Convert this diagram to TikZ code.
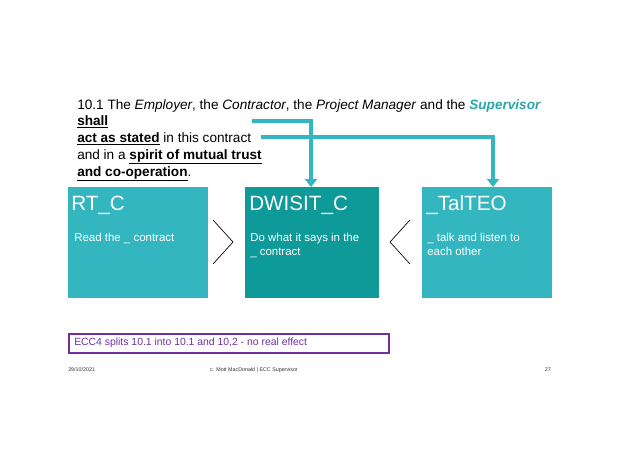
\documentclass[tikz,border=0pt]{standalone}
\usepackage{fontspec}
\setmainfont{Liberation Sans}
\definecolor{tealA}{HTML}{33B6C0}
\definecolor{tealB}{HTML}{0E9A98}
\definecolor{supcol}{HTML}{2AA6A8}
\definecolor{purp}{HTML}{7030A0}
\usetikzlibrary{arrows.meta}
\tikzset{
 box/.style={anchor=north west,minimum width=#1, minimum height=83pt, inner sep=0pt},
 ttl/.style={anchor=west,text=white,font=\fontsize{15.5}{15.5}\selectfont,inner sep=0pt},
 bdy/.style={anchor=north west,text=white,font=\fontsize{8.6}{10.8}\selectfont,inner sep=0pt,align=left},
 txt/.style={anchor=base west,inner sep=0pt,font=\fontsize{10.2}{10}\selectfont},
 conn/.style={draw=tealA,line width=2.6pt,-{Triangle[length=6pt,width=9pt]}},
 chev/.style={draw=black,line width=0.5pt},
 foot/.style={inner sep=0pt,font=\fontsize{4}{4}\selectfont,text=black!80}
}
\begin{document}
\begin{tikzpicture}[x=0.75pt,y=-0.75pt]
\useasboundingbox (0,0) rectangle (638,451);
\fill[white] (0,0) rectangle (638,451);
\node[box=105pt,fill=tealA] (b1) at (68,187) {};
\node[box=100pt,fill=tealB] (b2) at (245,187) {};
\node[box=97.5pt,fill=tealA] (b3) at (422,187) {};
\node[ttl] (t1) at (71,205) {RT\_C};
\node[ttl] (t2) at (249,205) {DWISIT\_C};
\node[ttl] (t3) at (426,205) {\_TalTEO};
\node[bdy] (d1) at (74,233) {Read the \_ contract};
\node[bdy] (d2) at (250,233) {Do what it says in the\\\_ contract};
\node[bdy] (d3) at (427,233) {\_ talk and listen to\\each other};
\draw[chev] (213,220) -- (233,242) -- (213,264);
\draw[chev] (410,220) -- (390,242) -- (410,264);
\node[txt] (l1) at (77,109) {10.1 The \textit{Employer}, the \textit{Contractor}, the \textit{Project Manager} and the \textcolor{supcol}{\textbf{\textit{Supervisor}}}};
\node[txt] (l2) at (77,125) {\textbf{\underline{shall}}};
\node[txt] (l3) at (77,142) {\textbf{\underline{act as stated}} in this contract};
\node[txt] (l4) at (77,159) {and in a \textbf{\underline{spirit of mutual trust}}};
\node[txt] (l5) at (77,176) {\textbf{\underline{and co-operation}}.};
\coordinate (s1) at (252,121);
\coordinate (s2) at (261,137);
\draw[conn] (s1) -- (311,121) -- (b2.north -| 311,0);
\draw[conn] (s2) -- (493,137) -- (b3.north -| 493,0);
\node[draw=purp,line width=1.5pt,anchor=north west,minimum width=240pt,minimum height=14pt,inner sep=0pt] (pb) at (68,333) {};
\node[anchor=west,inner sep=0pt,text=purp,font=\fontsize{7.8}{8}\selectfont] (pt) at (74,342.5) {ECC4 splits 10.1 into 10.1 and 10,2 - no real effect};
\node[foot,anchor=west] (f1) at (68,370) {29/10/2021};
\node[foot] (f2) at (254,370) {c. Mott MacDonald | ECC Supervisor};
\node[foot,anchor=east] (f3) at (551,370) {27};
\end{tikzpicture}
\end{document}
